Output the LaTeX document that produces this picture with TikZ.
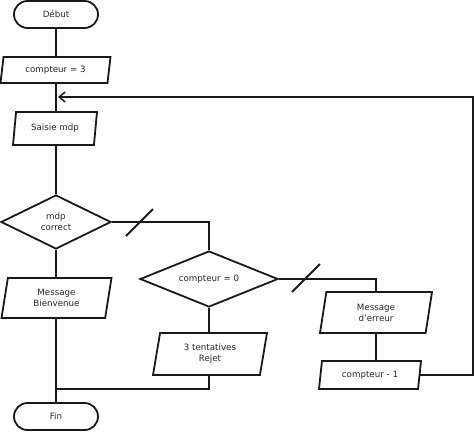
\documentclass[tikz,border=0pt]{standalone}
\usepackage{fontspec}
\setmainfont{DejaVu Sans}
\usetikzlibrary{shapes.geometric,shapes.misc,arrows.meta}
\begin{document}
\begin{tikzpicture}[x=1pt,y=-1pt,
  every node/.style={font=\fontsize{8.7}{11}\selectfont, text=black!85, align=center, inner sep=0pt},
  line/.style={draw=black!90, line width=1.8pt},
  term/.style={line, rounded rectangle, minimum width=84pt, minimum height=27pt},
  io/.style={line, trapezium, trapezium left angle=70, trapezium right angle=110, trapezium stretches body=true},
  dec/.style={line, diamond, aspect=2.4},
  conn/.style={black!90, line width=1.8pt},
  arr/.style={conn, -{Straight Barb[length=6pt,width=10pt,line width=1.5pt]}}
]
\useasboundingbox (0,0) rectangle (474,432);
\node[term] (debut) at (56,14.5) {Début};
\node[io, minimum width=110pt, minimum height=26pt] (c3) at (55.5,70) {compteur = 3};
\node[io, minimum width=84pt, minimum height=33pt] (saisie) at (55,128.5) {Saisie mdp};
\node[dec, minimum width=110pt, minimum height=54pt] (mdp) at (56,222) {mdp\\correct};
\node[io, minimum width=110pt, minimum height=40pt] (bienv) at (56.5,298) {Message\\Bienvenue};
\node[term] (fin) at (56,416.5) {Fin};
\node[dec, minimum width=138pt, minimum height=56pt] (c0) at (209,279) {compteur = 0};
\node[io, minimum width=114pt, minimum height=42pt] (tent) at (210,354) {3 tentatives\\Rejet};
\node[io, minimum width=112pt, minimum height=41pt] (err) at (376,312.5) {Message\\d'erreur};
\node[io, minimum width=102pt, minimum height=28pt] (c1) at (370,375) {compteur - 1};

\coordinate (col) at (56,0);
\coordinate (j1) at (56,389);
\coordinate (r1) at (473,375);
\coordinate (m1) at (58,97);
\coordinate (s1) at (139.5,222.5);
\coordinate (s2) at (306,278);
\coordinate (ecol) at (376,0);

\draw[conn] (debut.south -| col) -- (c3.north -| col);
\draw[conn] (c3.south -| col) -- (saisie.north -| col);
\draw[conn] (saisie.south -| col) -- (mdp.north);
\draw[conn] (mdp.south) -- (bienv.north -| col);
\draw[conn] (bienv.south -| col) -- (fin.north -| col);
\draw[conn] (mdp.east) -| (c0.north);
\draw[conn] (c0.east) -| (err.north -| ecol);
\draw[conn] (c0.south) -- (tent.north -| c0.south);
\draw[conn] (tent.south -| c0.south) |- (j1);
\draw[conn] (err.south -| ecol) -- (c1.north -| ecol);
\draw[arr] (c1.east) -- (c1.east -| r1) |- (m1);
\draw[conn] ([shift={(-13.5,13.5)}]s1) -- ([shift={(13.5,-13.5)}]s1);
\draw[conn] ([shift={(-14,14)}]s2) -- ([shift={(14,-14)}]s2);
\end{tikzpicture}
\end{document}
